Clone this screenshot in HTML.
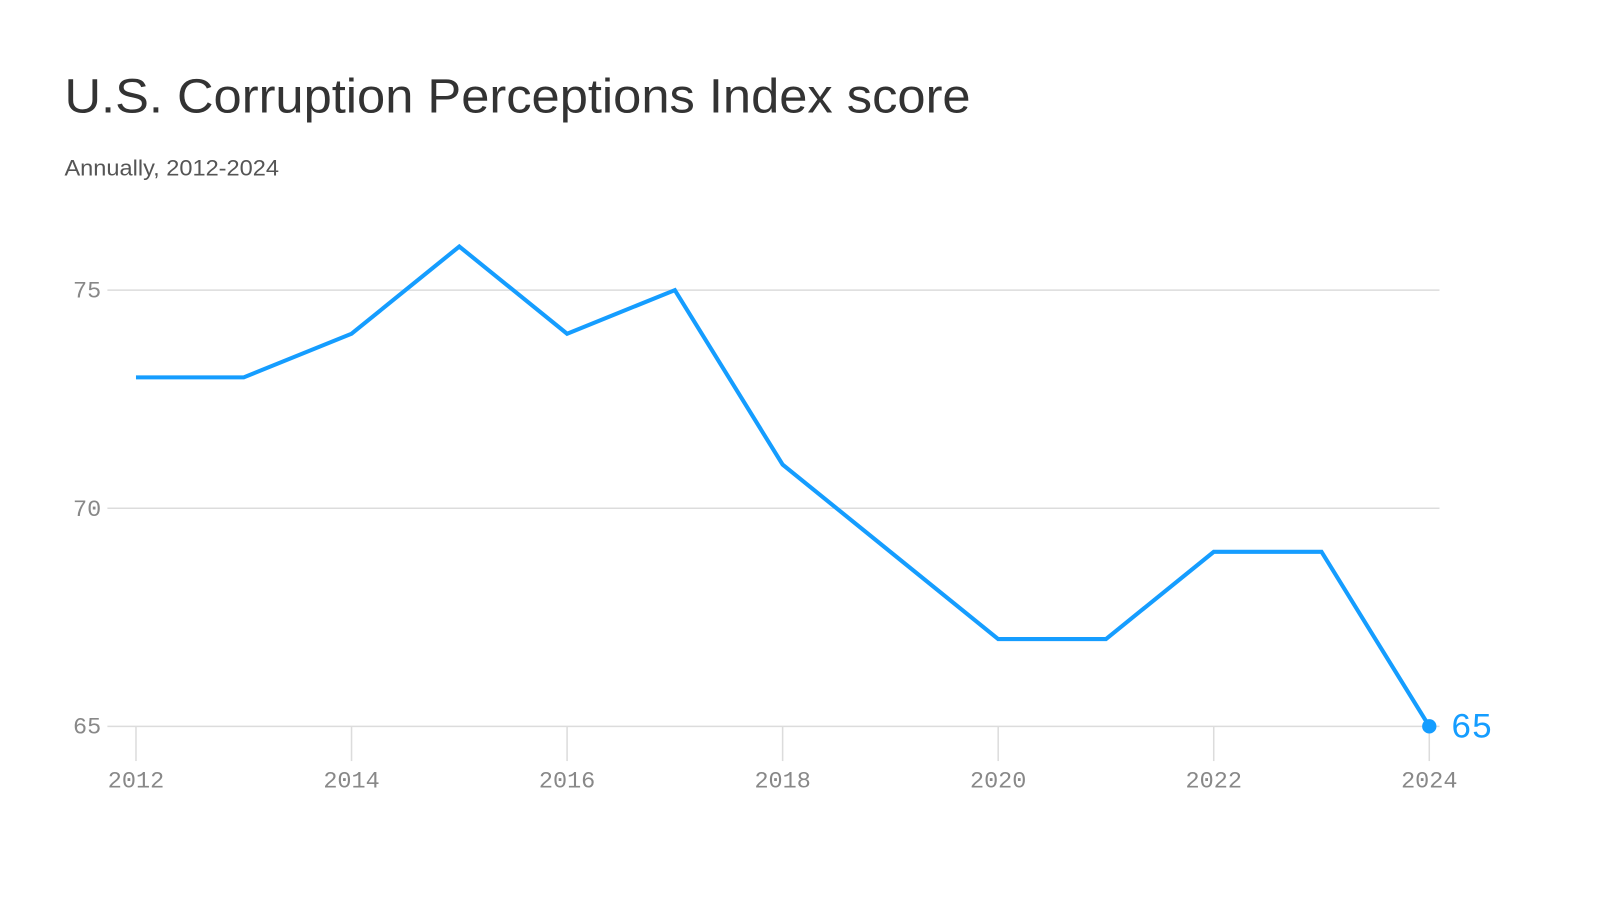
<!DOCTYPE html>
<html><head><meta charset="utf-8"><style>
body{margin:0;background:#fff;width:1600px;height:900px;overflow:hidden}
</style></head><body>
<svg width="1600" height="900" viewBox="0 0 1566 881" xmlns="http://www.w3.org/2000/svg">
<text x="63" y="110" font-family="Liberation Sans, sans-serif" font-size="47" fill="#333" textLength="887" lengthAdjust="spacingAndGlyphs">U.S. Corruption Perceptions Index score</text>
<text x="63" y="172" font-family="Liberation Sans, sans-serif" font-size="22" fill="#555" textLength="210" lengthAdjust="spacingAndGlyphs">Annually, 2012-2024</text>
<g stroke="#dcdcdc" stroke-width="1.5">
<line x1="105" y1="284" x2="1409" y2="284"/>
<line x1="105" y1="497.5" x2="1409" y2="497.5"/>
<line x1="105" y1="711" x2="1409" y2="711"/>
<line x1="133" y1="711" x2="133" y2="745"/>
<line x1="344" y1="711" x2="344" y2="745"/>
<line x1="555" y1="711" x2="555" y2="745"/>
<line x1="766" y1="711" x2="766" y2="745"/>
<line x1="977" y1="711" x2="977" y2="745"/>
<line x1="1188" y1="711" x2="1188" y2="745"/>
<line x1="1399" y1="711" x2="1399" y2="745"/>
</g>
<g font-family="Liberation Mono, monospace" font-size="23" fill="#888">
<text x="99" y="291" text-anchor="end">75</text>
<text x="99" y="505" text-anchor="end">70</text>
<text x="99" y="718" text-anchor="end">65</text>
<g text-anchor="middle">
<text x="133" y="771">2012</text><text x="344" y="771">2014</text><text x="555" y="771">2016</text><text x="766" y="771">2018</text><text x="977" y="771">2020</text><text x="1188" y="771">2022</text><text x="1399" y="771">2024</text>
</g></g>
<polyline fill="none" stroke="#159dff" stroke-width="4" stroke-linejoin="miter" points="133,369.4 238.5,369.4 344,326.7 449.5,241.3 555,326.7 660.5,284 766,454.8 871.5,540.2 977,625.6 1082.5,625.6 1188,540.2 1293.5,540.2 1399,711"/>
<circle cx="1399" cy="711" r="7" fill="#159dff"/>
<text x="1420" y="722" font-family="Liberation Mono, monospace" font-size="34" fill="#159dff">65</text>
</svg>
</body></html>
